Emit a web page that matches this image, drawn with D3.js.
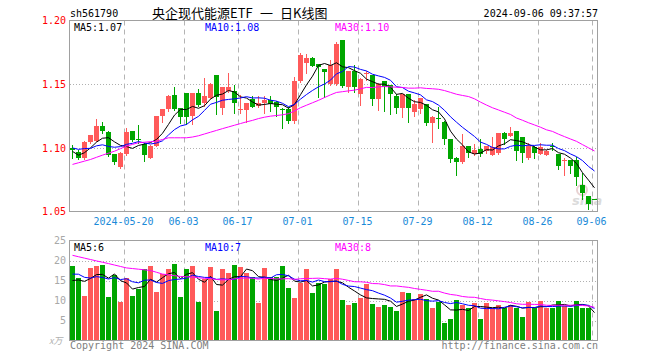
<!DOCTYPE html>
<html><head><meta charset="utf-8">
<script src="https://cdn.jsdelivr.net/npm/d3@7"></script>
<style>body{margin:0;background:#fff}svg{display:block}</style>
</head><body>
<svg id="c" width="660" height="360"></svg>
<script>
// ---- data ----
const dates = [
"2024-05-07","2024-05-08","2024-05-09","2024-05-10","2024-05-13","2024-05-14","2024-05-15","2024-05-16","2024-05-17",
"2024-05-20","2024-05-21","2024-05-22","2024-05-23","2024-05-24","2024-05-27","2024-05-28","2024-05-29","2024-05-30","2024-05-31",
"2024-06-03","2024-06-04","2024-06-05","2024-06-06","2024-06-07","2024-06-11","2024-06-12","2024-06-13","2024-06-14",
"2024-06-17","2024-06-18","2024-06-19","2024-06-20","2024-06-21","2024-06-24","2024-06-25","2024-06-26","2024-06-27","2024-06-28",
"2024-07-01","2024-07-02","2024-07-03","2024-07-04","2024-07-05","2024-07-08","2024-07-09","2024-07-10","2024-07-11","2024-07-12",
"2024-07-15","2024-07-16","2024-07-17","2024-07-18","2024-07-19","2024-07-22","2024-07-23","2024-07-24","2024-07-25","2024-07-26",
"2024-07-29","2024-07-30","2024-07-31","2024-08-01","2024-08-02","2024-08-05","2024-08-06","2024-08-07","2024-08-08","2024-08-09",
"2024-08-12","2024-08-13","2024-08-14","2024-08-15","2024-08-16","2024-08-19","2024-08-20","2024-08-21","2024-08-22","2024-08-23",
"2024-08-26","2024-08-27","2024-08-28","2024-08-29","2024-08-30","2024-09-02","2024-09-03","2024-09-04","2024-09-05","2024-09-06"];

const opens = [1.0998,1.0971,1.0924,1.1047,1.1055,1.1172,1.1125,1.0953,1.0849,1.0950,
1.1133,1.1066,1.1031,1.0924,1.1016,1.1250,1.1305,1.1414,1.1310,1.1429,
1.1252,1.1427,1.1349,1.1393,1.1570,1.1310,1.1445,1.1445,1.1302,1.1297,
1.1380,1.1328,1.1349,1.1375,1.1362,1.1305,1.1305,1.1211,1.1523,1.1667,
1.1709,1.1662,1.1617,1.1498,1.1498,1.1844,1.1479,1.1602,1.1422,1.1586,
1.1570,1.1383,1.1523,1.1492,1.1406,1.1310,1.1422,1.1284,1.1302,1.1344,
1.1198,1.1235,1.1205,1.1070,1.0924,1.0885,1.1016,1.0953,1.0990,1.0979,
1.0945,1.0960,1.1115,1.1094,1.1133,1.1083,1.0919,1.1010,1.0953,1.0945,
1.1012,1.0953,1.0898,1.0906,1.0906,1.0711,1.0620,1.0601];

const highs = [1.1023,1.0984,1.1055,1.1100,1.1224,1.1203,1.1135,1.0955,1.0965,1.1159,
1.1133,1.1180,1.1037,1.1020,1.1252,1.1305,1.1414,1.1474,1.1310,1.1430,
1.1430,1.1459,1.1552,1.1510,1.1570,1.1474,1.1588,1.1497,1.1417,1.1352,
1.1406,1.1406,1.1406,1.1406,1.1365,1.1310,1.1323,1.1557,1.1748,1.1734,
1.1712,1.1662,1.1620,1.1690,1.1832,1.1844,1.1605,1.1650,1.1547,1.1605,
1.1572,1.1507,1.1526,1.1495,1.1420,1.1423,1.1425,1.1375,1.1395,1.1346,
1.1247,1.1320,1.1207,1.1072,1.0926,1.1110,1.1018,1.1031,1.1070,1.1018,
1.1085,1.1120,1.1125,1.1162,1.1135,1.1085,1.1040,1.1012,1.1040,1.0985,
1.1040,1.0955,1.0919,1.0908,1.0930,1.0802,1.0625,1.0601];

const lows = [1.0920,1.0916,1.0916,1.1040,1.1050,1.1117,1.0935,1.0875,1.0843,1.0945,
1.1050,1.1037,1.0893,1.0920,1.1014,1.1205,1.1290,1.1300,1.1193,1.1185,
1.1190,1.1330,1.1330,1.1390,1.1266,1.1266,1.1440,1.1271,1.1271,1.1205,
1.1318,1.1318,1.1271,1.1287,1.1253,1.1154,1.1195,1.1195,1.1520,1.1591,
1.1640,1.1401,1.1401,1.1495,1.1495,1.1480,1.1440,1.1440,1.1336,1.1533,
1.1336,1.1297,1.1290,1.1266,1.1271,1.1240,1.1205,1.1250,1.1270,1.1180,
1.1049,1.1155,1.1031,1.0890,1.0789,1.0880,1.0930,1.0945,1.0935,1.0960,
1.0940,1.0955,1.1030,1.1090,1.0905,1.0885,1.0915,1.0920,1.0950,1.0940,
1.0985,1.0835,1.0789,1.0800,1.0711,1.0602,1.0516,1.0599];

const closes = [1.0980,1.0924,1.1049,1.1098,1.1172,1.1135,1.0945,1.0885,1.0958,1.1127,
1.1063,1.1060,1.0940,1.1016,1.1250,1.1305,1.1409,1.1305,1.1240,1.1245,
1.1427,1.1336,1.1406,1.1500,1.1396,1.1474,1.1474,1.1349,1.1308,1.1349,
1.1323,1.1349,1.1375,1.1344,1.1323,1.1302,1.1211,1.1523,1.1727,1.1709,
1.1644,1.1635,1.1596,1.1648,1.1818,1.1484,1.1602,1.1479,1.1544,1.1590,
1.1383,1.1505,1.1479,1.1422,1.1310,1.1420,1.1315,1.1344,1.1393,1.1198,
1.1245,1.1230,1.1070,1.0914,1.0885,1.1016,1.0958,1.0984,1.0953,1.1016,
1.1003,1.1118,1.1068,1.1115,1.0979,1.0958,1.1016,1.0963,1.1005,1.0979,
1.1008,1.0854,1.0903,1.0854,1.0768,1.0646,1.0562,1.0599];

// volume, unit: 万
const volumes = [18.75,15.7,11.25,18.1,18.6,19,11,16.5,9.75,15.75,
11.25,13,17.8,18.7,12.25,16.75,18,19.25,11,17.8,
18.75,9.75,15.5,18.5,7.5,18,16.8,19,18.5,17,
16,9.3,18.2,15.8,15.8,18.75,13.2,10.7,14.5,17.8,
12,14.5,14.2,15.5,17.8,10.1,9,9.5,10.6,14.1,
9.25,8.5,9,8.3,7.5,12.25,12,10.5,11.75,10.5,
8.1,9.7,4.5,5.5,10.25,9,8.25,9.5,5.5,9.5,
8.25,9,8.25,9,8.25,6,9.75,8.25,10,8.25,
8.1,10,8.75,8.1,10,8.25,8.25,0.2];

// earlier sessions (not drawn as candles) estimated from where the MA lines start
const priorCloses = [1.0534,1.066,1.071,1.066,1.0625,1.048,1.042,1.036,1.053,1.066,
1.066,1.082,1.0896,1.113,1.0905,1.101,1.1305,1.124,1.1245,1.1247,
1.1036,1.0986,1.108,1.0976,1.1054,1.1074,1.0949,1.0908,1.0949];
const priorVolumes = [26.2,21.75,28.6,29.1,29,21,27.3,20.55,26.55,16.05,
17.8,22.6,23.5,25.75,30.25,24,25.25,17,19.8,20.75,
16,19,20,15,21,15,13,14.5,13.75];

const tickDates = ["2024-05-20","2024-06-03","2024-06-17","2024-07-01","2024-07-15","2024-07-29","2024-08-12","2024-08-26","2024-09-06"];
const tickLabels = ["2024-05-20","06-03","06-17","07-01","07-15","07-29","08-12","08-26","09-06"];
const priceTicks = [1.05,1.10,1.15,1.20];
const priceGrid = [1.10,1.15];
const volTicks = [5,10,15,20,25];
const volGrid = [5,10,15,20];
const maPeriods = [5,10,30];
const priceLegend = ["MA5:1.07","MA10:1.08","MA30:1.10"];
const volLegend = ["MA5:6","MA10:7","MA30:8"];
const symbol = "sh561790";
const titleParts = ["央企现代能源ETF", "一", "日K线图"];
const stamp = "2024-09-06 09:37:57";

// ---- drawing ----
const svg = d3.select("#c");
const MONO = "'DejaVu Sans Mono', monospace";
const CJK = "'Noto Sans CJK SC', sans-serif";
const RED = "#ff5a5a", GREEN = "#00a600", FRAME = "#a0a0a0";
const maColors = ["#000000","#0000ff","#ff00ff"];
const L = 70, R = 598;

const x = d3.scaleBand().domain(dates).range([L, R]).paddingInner(1/6).paddingOuter(1/12).align(0);
const cx = d => x(d) + x.bandwidth()/2;
const y = d3.scaleLinear().domain([1.05, 1.20]).range([211.5, 20.5]);
const yv = d3.scaleLinear().domain([0, 25]).range([340.5, 240.5]);

function movingAvg(prior, vals, n) {
  const all = prior.concat(vals);
  return vals.map((v, i) => d3.mean(all.slice(prior.length + i - n + 1, prior.length + i + 1)));
}

function panel(ys, top, bottom, gridVals) {
  const g = svg.append("g");
  g.selectAll(".hg").data(gridVals).join("line")
    .attr("x1", L).attr("x2", R).attr("y1", d => Math.round(ys(d)) + 0.5).attr("y2", d => Math.round(ys(d)) + 0.5)
    .attr("stroke", "#b0b0b0").attr("stroke-dasharray", "1,2");
  g.selectAll(".vg").data(tickDates).join("line")
    .attr("x1", d => x(d) + 0.5).attr("x2", d => x(d) + 0.5).attr("y1", top).attr("y2", bottom)
    .attr("stroke", "#b4b4b4").attr("stroke-dasharray", "5,4");
  return g;
}

// header
svg.append("text").attr("x", 70).attr("y", 17).attr("font-family", MONO).attr("font-size", 10).attr("fill", "#000").text(symbol);
const tt = svg.append("text").attr("y", 18).attr("font-family", CJK).attr("font-size", 13).attr("fill", "#000");
[152, 260, 280].forEach((px, k) => tt.append("tspan").attr("x", px).text(titleParts[k]));
svg.append("text").attr("x", 598).attr("y", 17).attr("text-anchor", "end").attr("font-family", MONO).attr("font-size", 10).attr("fill", "#000").text(stamp);

// price panel
panel(y, 20.5, 211.5, priceGrid);

// watermark
const wm = svg.append("g").attr("opacity", 0.35);
wm.append("circle").attr("cx", 582).attr("cy", 190).attr("r", 5).attr("fill", "none").attr("stroke", "#c08080").attr("stroke-width", 2);
wm.append("text").attr("x", 572).attr("y", 205).attr("font-family", "'DejaVu Sans', sans-serif").attr("font-style", "italic").attr("font-weight", "bold").attr("font-size", 13).attr("fill", "#999").text("sina");

const idx = d3.range(dates.length);
const cg = svg.append("g");
cg.selectAll(".wick").data(idx).join("line")
  .attr("x1", i => cx(dates[i])).attr("x2", i => cx(dates[i]))
  .attr("y1", i => Math.round(y(highs[i]))).attr("y2", i => Math.round(y(lows[i])) + 1)
  .attr("stroke", i => closes[i] >= opens[i] ? RED : GREEN);
cg.selectAll(".body").data(idx).join("rect")
  .attr("x", i => x(dates[i])).attr("width", x.bandwidth())
  .attr("y", i => Math.round(y(Math.max(opens[i], closes[i]))))
  .attr("height", i => Math.max(1, Math.round(y(Math.min(opens[i], closes[i]))) - Math.round(y(Math.max(opens[i], closes[i])))))
  .attr("fill", i => closes[i] >= opens[i] ? RED : GREEN);

maPeriods.forEach((n, k) => {
  const ma = movingAvg(priorCloses, closes, n);
  svg.append("path").datum(idx).attr("fill", "none").attr("stroke", maColors[k]).attr("stroke-width", 1)
    .attr("d", d3.line().x(i => cx(dates[i])).y(i => y(ma[i])));
});

svg.append("rect").attr("x", 69.5).attr("y", 20.5).attr("width", 528).attr("height", 191).attr("fill", "none").attr("stroke", FRAME);

const ay = svg.append("g").attr("transform", `translate(${L},0)`)
  .call(d3.axisLeft(y).tickValues(priceTicks).tickFormat(d3.format(".2f")).tickSize(0).tickPadding(4));
ay.select(".domain").remove();
ay.selectAll("text").attr("font-family", MONO).attr("font-size", 10).attr("fill", "#ff0000");

const ax = svg.append("g").attr("transform", `translate(-3,212)`)
  .call(d3.axisBottom(x).tickValues(tickDates).tickFormat((d, i) => tickLabels[i]).tickSize(0).tickPadding(6));
ax.select(".domain").remove();
ax.selectAll("text").attr("font-family", MONO).attr("font-size", 10).attr("fill", "#1a8ad8");

[74, 205, 335].forEach((px, k) => {
  svg.append("text").attr("x", px).attr("y", 31).attr("font-family", MONO).attr("font-size", 10).attr("fill", maColors[k]).text(priceLegend[k]);
});

// volume panel
panel(yv, 240.5, 340.5, volGrid);
const vg = svg.append("g");
vg.selectAll("rect").data(idx).join("rect")
  .attr("x", i => x(dates[i])).attr("width", x.bandwidth())
  .attr("y", i => Math.round(yv(volumes[i])))
  .attr("height", i => Math.max(1, 341 - Math.round(yv(volumes[i]))))
  .attr("fill", i => closes[i] >= opens[i] ? RED : GREEN);

maPeriods.forEach((n, k) => {
  const ma = movingAvg(priorVolumes, volumes, n);
  svg.append("path").datum(idx).attr("fill", "none").attr("stroke", maColors[k]).attr("stroke-width", 1)
    .attr("d", d3.line().x(i => cx(dates[i])).y(i => yv(ma[i])));
});

svg.append("rect").attr("x", 69.5).attr("y", 240.5).attr("width", 528).attr("height", 100).attr("fill", "none").attr("stroke", FRAME);

const avy = svg.append("g").attr("transform", `translate(${L},0)`)
  .call(d3.axisLeft(yv).tickValues(volTicks).tickFormat(d3.format("d")).tickSize(0).tickPadding(4));
avy.select(".domain").remove();
avy.selectAll("text").attr("font-family", MONO).attr("font-size", 10).attr("fill", "#a8a8a8");

svg.append("text").attr("x", 49).attr("y", 344).attr("font-family", CJK).attr("font-style", "italic").attr("font-size", 9).attr("fill", "#b0b0b0").text("x万");

[74, 205, 335].forEach((px, k) => {
  svg.append("text").attr("x", px).attr("y", 251).attr("font-family", MONO).attr("font-size", 10).attr("fill", maColors[k]).text(volLegend[k]);
});

svg.append("text").attr("x", 70).attr("y", 349).attr("font-family", MONO).attr("font-size", 10).attr("fill", "#808080").text("Copyright 2024 SINA.COM");
svg.append("text").attr("x", 598).attr("y", 349).attr("text-anchor", "end").attr("font-family", MONO).attr("font-size", 10).attr("fill", "#808080").text("http://finance.sina.com.cn");
</script>
</body></html>
